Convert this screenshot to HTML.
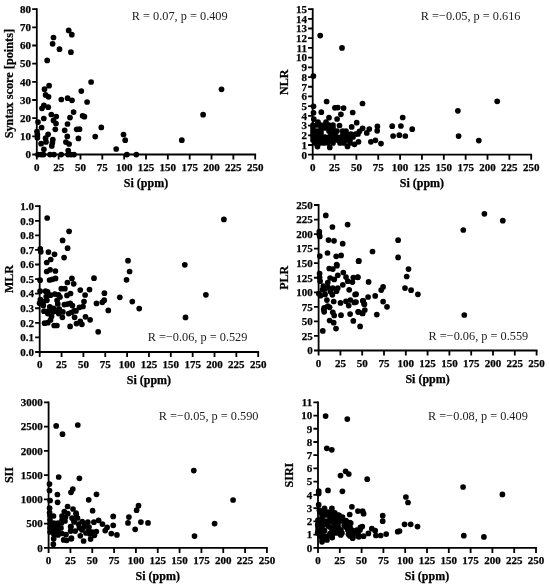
<!DOCTYPE html>
<html><head><meta charset="utf-8"><style>
html,body{margin:0;padding:0;background:#fff;}
svg{display:block;}
path{stroke:#000;stroke-width:1.8;fill:none;stroke-linecap:butt;}
text{font-family:"Liberation Serif","Times New Roman",serif;fill:#000;stroke:#000;stroke-width:0.25px;}
.tl{font-weight:bold;font-size:11px;}
.at{font-weight:bold;font-size:12px;}
.an{font-size:12.3px;stroke:none;fill:#1c1c1c;}
.pt circle{fill:#000;}
</style></head><body>
<svg width="550" height="586" viewBox="0 0 550 586">
<rect width="550" height="586" fill="#fff"/>
<path d="M36.80 8.30V159.60M32.20 154.50H256.10" />
<path d="M32.20 136.34H36.80M32.20 118.17H36.80M32.20 100.01H36.80M32.20 81.85H36.80M32.20 63.69H36.80M32.20 45.52H36.80M32.20 27.36H36.80M32.20 9.20H36.80M58.64 154.50V159.60M80.48 154.50V159.60M102.32 154.50V159.60M124.16 154.50V159.60M146.00 154.50V159.60M167.84 154.50V159.60M189.68 154.50V159.60M211.52 154.50V159.60M233.36 154.50V159.60M255.20 154.50V159.60" />
<text class="tl" x="31.00" y="158.30" text-anchor="end">0</text>
<text class="tl" x="31.00" y="140.14" text-anchor="end">10</text>
<text class="tl" x="31.00" y="121.97" text-anchor="end">20</text>
<text class="tl" x="31.00" y="103.81" text-anchor="end">30</text>
<text class="tl" x="31.00" y="85.65" text-anchor="end">40</text>
<text class="tl" x="31.00" y="67.49" text-anchor="end">50</text>
<text class="tl" x="31.00" y="49.32" text-anchor="end">60</text>
<text class="tl" x="31.00" y="31.16" text-anchor="end">70</text>
<text class="tl" x="31.00" y="13.00" text-anchor="end">80</text>
<text class="tl" x="36.80" y="170.70" text-anchor="middle">0</text>
<text class="tl" x="58.64" y="170.70" text-anchor="middle">25</text>
<text class="tl" x="80.48" y="170.70" text-anchor="middle">50</text>
<text class="tl" x="102.32" y="170.70" text-anchor="middle">75</text>
<text class="tl" x="124.16" y="170.70" text-anchor="middle">100</text>
<text class="tl" x="146.00" y="170.70" text-anchor="middle">125</text>
<text class="tl" x="167.84" y="170.70" text-anchor="middle">150</text>
<text class="tl" x="189.68" y="170.70" text-anchor="middle">175</text>
<text class="tl" x="211.52" y="170.70" text-anchor="middle">200</text>
<text class="tl" x="233.36" y="170.70" text-anchor="middle">225</text>
<text class="tl" x="255.20" y="170.70" text-anchor="middle">250</text>
<text class="at" x="146.00" y="186.50" text-anchor="middle">Si (ppm)</text>
<text class="at" style="font-size:12.25px" transform="translate(12.80 83.70) rotate(-90)" text-anchor="middle">Syntax score [points]</text>
<text class="an" x="131.80" y="20.30">R = 0.07, p = 0.409</text>
<g class="pt"><circle cx="68.7" cy="30.4" r="2.85"/><circle cx="71.8" cy="34.7" r="2.85"/><circle cx="53.5" cy="37.5" r="2.85"/><circle cx="52.6" cy="43.8" r="2.85"/><circle cx="59.5" cy="49.2" r="2.85"/><circle cx="70.9" cy="52.2" r="2.85"/><circle cx="47.2" cy="60.4" r="2.85"/><circle cx="91.1" cy="82.0" r="2.85"/><circle cx="49.1" cy="85.7" r="2.85"/><circle cx="44.5" cy="89.2" r="2.85"/><circle cx="81.3" cy="91.1" r="2.85"/><circle cx="45.6" cy="94.9" r="2.85"/><circle cx="48.5" cy="96.8" r="2.85"/><circle cx="61.3" cy="99.5" r="2.85"/><circle cx="67.6" cy="98.2" r="2.85"/><circle cx="72.0" cy="100.3" r="2.85"/><circle cx="87.1" cy="102.0" r="2.85"/><circle cx="43.9" cy="105.3" r="2.85"/><circle cx="42.0" cy="108.3" r="2.85"/><circle cx="48.2" cy="107.2" r="2.85"/><circle cx="73.6" cy="112.1" r="2.85"/><circle cx="51.3" cy="114.5" r="2.85"/><circle cx="56.2" cy="116.5" r="2.85"/><circle cx="82.6" cy="115.8" r="2.85"/><circle cx="84.4" cy="116.7" r="2.85"/><circle cx="43.8" cy="118.5" r="2.85"/><circle cx="70.0" cy="117.6" r="2.85"/><circle cx="53.5" cy="120.4" r="2.85"/><circle cx="38.0" cy="122.1" r="2.85"/><circle cx="56.0" cy="123.5" r="2.85"/><circle cx="67.5" cy="124.0" r="2.85"/><circle cx="41.6" cy="127.5" r="2.85"/><circle cx="55.3" cy="129.3" r="2.85"/><circle cx="64.7" cy="130.3" r="2.85"/><circle cx="76.7" cy="129.3" r="2.85"/><circle cx="79.5" cy="129.2" r="2.85"/><circle cx="37.0" cy="131.5" r="2.85"/><circle cx="37.4" cy="134.6" r="2.85"/><circle cx="37.4" cy="137.7" r="2.85"/><circle cx="48.1" cy="134.3" r="2.85"/><circle cx="45.6" cy="138.2" r="2.85"/><circle cx="52.8" cy="139.7" r="2.85"/><circle cx="67.3" cy="136.4" r="2.85"/><circle cx="78.4" cy="138.4" r="2.85"/><circle cx="41.1" cy="143.7" r="2.85"/><circle cx="46.0" cy="141.9" r="2.85"/><circle cx="52.4" cy="142.8" r="2.85"/><circle cx="51.8" cy="145.9" r="2.85"/><circle cx="65.9" cy="142.1" r="2.85"/><circle cx="69.1" cy="144.0" r="2.85"/><circle cx="43.9" cy="149.3" r="2.85"/><circle cx="68.2" cy="150.5" r="2.85"/><circle cx="101.3" cy="127.4" r="2.85"/><circle cx="95.2" cy="136.6" r="2.85"/><circle cx="123.5" cy="134.5" r="2.85"/><circle cx="125.2" cy="140.2" r="2.85"/><circle cx="116.2" cy="149.0" r="2.85"/><circle cx="38.0" cy="154.6" r="2.85"/><circle cx="41.0" cy="154.6" r="2.85"/><circle cx="43.5" cy="154.6" r="2.85"/><circle cx="50.0" cy="154.6" r="2.85"/><circle cx="54.0" cy="154.6" r="2.85"/><circle cx="61.2" cy="154.6" r="2.85"/><circle cx="68.0" cy="154.6" r="2.85"/><circle cx="71.0" cy="154.6" r="2.85"/><circle cx="74.0" cy="154.6" r="2.85"/><circle cx="126.9" cy="154.6" r="2.85"/><circle cx="136.3" cy="154.6" r="2.85"/><circle cx="221.5" cy="89.3" r="2.85"/><circle cx="203.1" cy="114.7" r="2.85"/><circle cx="181.8" cy="140.2" r="2.85"/></g>
<path d="M312.70 8.20V159.80M308.10 154.70H532.10" />
<path d="M308.10 144.99H312.70M308.10 135.29H312.70M308.10 125.58H312.70M308.10 115.87H312.70M308.10 106.17H312.70M308.10 96.46H312.70M308.10 86.75H312.70M308.10 77.05H312.70M308.10 67.34H312.70M308.10 57.63H312.70M308.10 47.93H312.70M308.10 38.22H312.70M308.10 28.51H312.70M308.10 18.81H312.70M308.10 9.10H312.70M334.55 154.70V159.80M356.40 154.70V159.80M378.25 154.70V159.80M400.10 154.70V159.80M421.95 154.70V159.80M443.80 154.70V159.80M465.65 154.70V159.80M487.50 154.70V159.80M509.35 154.70V159.80M531.20 154.70V159.80" />
<text class="tl" x="306.90" y="158.50" text-anchor="end">0</text>
<text class="tl" x="306.90" y="148.79" text-anchor="end">1</text>
<text class="tl" x="306.90" y="139.09" text-anchor="end">2</text>
<text class="tl" x="306.90" y="129.38" text-anchor="end">3</text>
<text class="tl" x="306.90" y="119.67" text-anchor="end">4</text>
<text class="tl" x="306.90" y="109.97" text-anchor="end">5</text>
<text class="tl" x="306.90" y="100.26" text-anchor="end">6</text>
<text class="tl" x="306.90" y="90.55" text-anchor="end">7</text>
<text class="tl" x="306.90" y="80.85" text-anchor="end">8</text>
<text class="tl" x="306.90" y="71.14" text-anchor="end">9</text>
<text class="tl" x="306.90" y="61.43" text-anchor="end">10</text>
<text class="tl" x="306.90" y="51.73" text-anchor="end">11</text>
<text class="tl" x="306.90" y="42.02" text-anchor="end">12</text>
<text class="tl" x="306.90" y="32.31" text-anchor="end">13</text>
<text class="tl" x="306.90" y="22.61" text-anchor="end">14</text>
<text class="tl" x="306.90" y="12.90" text-anchor="end">15</text>
<text class="tl" x="312.70" y="170.90" text-anchor="middle">0</text>
<text class="tl" x="334.55" y="170.90" text-anchor="middle">25</text>
<text class="tl" x="356.40" y="170.90" text-anchor="middle">50</text>
<text class="tl" x="378.25" y="170.90" text-anchor="middle">75</text>
<text class="tl" x="400.10" y="170.90" text-anchor="middle">100</text>
<text class="tl" x="421.95" y="170.90" text-anchor="middle">125</text>
<text class="tl" x="443.80" y="170.90" text-anchor="middle">150</text>
<text class="tl" x="465.65" y="170.90" text-anchor="middle">175</text>
<text class="tl" x="487.50" y="170.90" text-anchor="middle">200</text>
<text class="tl" x="509.35" y="170.90" text-anchor="middle">225</text>
<text class="tl" x="531.20" y="170.90" text-anchor="middle">250</text>
<text class="at" x="421.95" y="186.70" text-anchor="middle">Si (ppm)</text>
<text class="at" transform="translate(288.00 82.30) rotate(-90)" text-anchor="middle">NLR</text>
<text class="an" x="420.80" y="20.20">R =−0.05, p = 0.616</text>
<g class="pt"><circle cx="320.2" cy="35.6" r="2.85"/><circle cx="342.0" cy="47.9" r="2.85"/><circle cx="313.4" cy="76.1" r="2.85"/><circle cx="326.6" cy="101.5" r="2.85"/><circle cx="362.5" cy="103.5" r="2.85"/><circle cx="313.5" cy="106.3" r="2.85"/><circle cx="334.9" cy="107.8" r="2.85"/><circle cx="337.8" cy="107.6" r="2.85"/><circle cx="343.6" cy="108.1" r="2.85"/><circle cx="313.5" cy="112.8" r="2.85"/><circle cx="321.3" cy="112.2" r="2.85"/><circle cx="340.9" cy="114.3" r="2.85"/><circle cx="352.7" cy="112.5" r="2.85"/><circle cx="313.8" cy="119.1" r="2.85"/><circle cx="329.0" cy="117.7" r="2.85"/><circle cx="337.1" cy="119.0" r="2.85"/><circle cx="356.7" cy="122.7" r="2.85"/><circle cx="351.7" cy="126.9" r="2.85"/><circle cx="339.5" cy="125.5" r="2.85"/><circle cx="362.6" cy="128.3" r="2.85"/><circle cx="369.3" cy="129.0" r="2.85"/><circle cx="377.4" cy="126.4" r="2.85"/><circle cx="377.2" cy="130.8" r="2.85"/><circle cx="366.8" cy="132.9" r="2.85"/><circle cx="359.5" cy="131.3" r="2.85"/><circle cx="370.9" cy="141.8" r="2.85"/><circle cx="375.4" cy="140.3" r="2.85"/><circle cx="381.0" cy="143.6" r="2.85"/><circle cx="358.5" cy="141.8" r="2.85"/><circle cx="354.5" cy="144.3" r="2.85"/><circle cx="347.5" cy="146.5" r="2.85"/><circle cx="329.8" cy="147.4" r="2.85"/><circle cx="317.5" cy="146.6" r="2.85"/><circle cx="402.7" cy="117.5" r="2.85"/><circle cx="392.2" cy="126.2" r="2.85"/><circle cx="400.9" cy="126.0" r="2.85"/><circle cx="412.2" cy="129.2" r="2.85"/><circle cx="393.1" cy="136.0" r="2.85"/><circle cx="399.3" cy="135.2" r="2.85"/><circle cx="405.3" cy="136.0" r="2.85"/><circle cx="497.2" cy="101.3" r="2.85"/><circle cx="457.9" cy="110.8" r="2.85"/><circle cx="458.6" cy="136.1" r="2.85"/><circle cx="478.8" cy="140.6" r="2.85"/><circle cx="318.0" cy="122.0" r="2.85"/><circle cx="326.0" cy="122.0" r="2.85"/><circle cx="313.0" cy="125.0" r="2.85"/><circle cx="317.0" cy="125.0" r="2.85"/><circle cx="321.0" cy="125.0" r="2.85"/><circle cx="325.0" cy="125.0" r="2.85"/><circle cx="329.0" cy="125.0" r="2.85"/><circle cx="333.0" cy="125.0" r="2.85"/><circle cx="313.0" cy="128.0" r="2.85"/><circle cx="321.0" cy="128.0" r="2.85"/><circle cx="325.0" cy="128.0" r="2.85"/><circle cx="329.0" cy="128.0" r="2.85"/><circle cx="333.0" cy="128.0" r="2.85"/><circle cx="313.0" cy="131.0" r="2.85"/><circle cx="317.0" cy="131.0" r="2.85"/><circle cx="321.0" cy="131.0" r="2.85"/><circle cx="329.0" cy="131.0" r="2.85"/><circle cx="333.0" cy="131.0" r="2.85"/><circle cx="337.0" cy="131.0" r="2.85"/><circle cx="342.7" cy="131.0" r="2.85"/><circle cx="346.0" cy="131.0" r="2.85"/><circle cx="313.0" cy="134.0" r="2.85"/><circle cx="317.0" cy="134.0" r="2.85"/><circle cx="321.0" cy="134.0" r="2.85"/><circle cx="331.0" cy="134.0" r="2.85"/><circle cx="335.0" cy="134.0" r="2.85"/><circle cx="343.0" cy="134.0" r="2.85"/><circle cx="347.0" cy="134.0" r="2.85"/><circle cx="351.0" cy="134.0" r="2.85"/><circle cx="355.5" cy="134.0" r="2.85"/><circle cx="358.0" cy="134.0" r="2.85"/><circle cx="313.0" cy="137.0" r="2.85"/><circle cx="317.0" cy="137.0" r="2.85"/><circle cx="321.0" cy="137.0" r="2.85"/><circle cx="325.0" cy="137.0" r="2.85"/><circle cx="329.0" cy="137.0" r="2.85"/><circle cx="333.0" cy="137.0" r="2.85"/><circle cx="337.0" cy="137.0" r="2.85"/><circle cx="341.0" cy="137.0" r="2.85"/><circle cx="345.0" cy="137.0" r="2.85"/><circle cx="349.0" cy="137.0" r="2.85"/><circle cx="353.0" cy="137.0" r="2.85"/><circle cx="313.0" cy="140.0" r="2.85"/><circle cx="317.0" cy="140.0" r="2.85"/><circle cx="321.0" cy="140.0" r="2.85"/><circle cx="325.0" cy="140.0" r="2.85"/><circle cx="329.0" cy="140.0" r="2.85"/><circle cx="333.0" cy="140.0" r="2.85"/><circle cx="337.0" cy="140.0" r="2.85"/><circle cx="341.0" cy="140.0" r="2.85"/><circle cx="346.0" cy="140.0" r="2.85"/><circle cx="350.0" cy="140.0" r="2.85"/><circle cx="315.0" cy="143.0" r="2.85"/><circle cx="320.0" cy="143.0" r="2.85"/><circle cx="324.0" cy="143.0" r="2.85"/><circle cx="328.0" cy="143.0" r="2.85"/><circle cx="333.0" cy="143.0" r="2.85"/><circle cx="340.0" cy="143.0" r="2.85"/><circle cx="344.0" cy="143.0" r="2.85"/><circle cx="350.0" cy="143.0" r="2.85"/></g>
<path d="M39.70 205.30V357.10M35.10 352.00H259.10" />
<path d="M35.10 337.42H39.70M35.10 322.84H39.70M35.10 308.26H39.70M35.10 293.68H39.70M35.10 279.10H39.70M35.10 264.52H39.70M35.10 249.94H39.70M35.10 235.36H39.70M35.10 220.78H39.70M35.10 206.20H39.70M61.55 352.00V357.10M83.40 352.00V357.10M105.25 352.00V357.10M127.10 352.00V357.10M148.95 352.00V357.10M170.80 352.00V357.10M192.65 352.00V357.10M214.50 352.00V357.10M236.35 352.00V357.10M258.20 352.00V357.10" />
<text class="tl" x="33.90" y="355.80" text-anchor="end">0.0</text>
<text class="tl" x="33.90" y="341.22" text-anchor="end">0.1</text>
<text class="tl" x="33.90" y="326.64" text-anchor="end">0.2</text>
<text class="tl" x="33.90" y="312.06" text-anchor="end">0.3</text>
<text class="tl" x="33.90" y="297.48" text-anchor="end">0.4</text>
<text class="tl" x="33.90" y="282.90" text-anchor="end">0.5</text>
<text class="tl" x="33.90" y="268.32" text-anchor="end">0.6</text>
<text class="tl" x="33.90" y="253.74" text-anchor="end">0.7</text>
<text class="tl" x="33.90" y="239.16" text-anchor="end">0.8</text>
<text class="tl" x="33.90" y="224.58" text-anchor="end">0.9</text>
<text class="tl" x="33.90" y="210.00" text-anchor="end">1.0</text>
<text class="tl" x="39.70" y="368.20" text-anchor="middle">0</text>
<text class="tl" x="61.55" y="368.20" text-anchor="middle">25</text>
<text class="tl" x="83.40" y="368.20" text-anchor="middle">50</text>
<text class="tl" x="105.25" y="368.20" text-anchor="middle">75</text>
<text class="tl" x="127.10" y="368.20" text-anchor="middle">100</text>
<text class="tl" x="148.95" y="368.20" text-anchor="middle">125</text>
<text class="tl" x="170.80" y="368.20" text-anchor="middle">150</text>
<text class="tl" x="192.65" y="368.20" text-anchor="middle">175</text>
<text class="tl" x="214.50" y="368.20" text-anchor="middle">200</text>
<text class="tl" x="236.35" y="368.20" text-anchor="middle">225</text>
<text class="tl" x="258.20" y="368.20" text-anchor="middle">250</text>
<text class="at" x="148.95" y="384.00" text-anchor="middle">Si (ppm)</text>
<text class="at" transform="translate(13.00 279.10) rotate(-90)" text-anchor="middle">MLR</text>
<text class="an" x="147.70" y="340.80">R =−0.06, p = 0.529</text>
<g class="pt"><circle cx="47.2" cy="218.0" r="2.85"/><circle cx="69.1" cy="231.3" r="2.85"/><circle cx="62.6" cy="240.4" r="2.85"/><circle cx="67.6" cy="248.2" r="2.85"/><circle cx="40.3" cy="248.9" r="2.85"/><circle cx="40.8" cy="251.8" r="2.85"/><circle cx="48.4" cy="252.1" r="2.85"/><circle cx="54.5" cy="254.3" r="2.85"/><circle cx="50.7" cy="259.5" r="2.85"/><circle cx="64.1" cy="257.6" r="2.85"/><circle cx="46.7" cy="262.5" r="2.85"/><circle cx="46.7" cy="271.5" r="2.85"/><circle cx="50.1" cy="269.8" r="2.85"/><circle cx="55.4" cy="271.0" r="2.85"/><circle cx="40.1" cy="280.2" r="2.85"/><circle cx="49.6" cy="280.0" r="2.85"/><circle cx="52.4" cy="279.3" r="2.85"/><circle cx="55.5" cy="278.4" r="2.85"/><circle cx="71.9" cy="278.4" r="2.85"/><circle cx="67.4" cy="282.5" r="2.85"/><circle cx="73.7" cy="283.8" r="2.85"/><circle cx="61.3" cy="288.7" r="2.85"/><circle cx="64.9" cy="288.7" r="2.85"/><circle cx="80.3" cy="290.1" r="2.85"/><circle cx="40.1" cy="291.2" r="2.85"/><circle cx="45.6" cy="291.2" r="2.85"/><circle cx="47.6" cy="291.9" r="2.85"/><circle cx="70.5" cy="293.5" r="2.85"/><circle cx="67.0" cy="295.4" r="2.85"/><circle cx="85.1" cy="295.0" r="2.85"/><circle cx="46.2" cy="296.6" r="2.85"/><circle cx="50.5" cy="295.2" r="2.85"/><circle cx="54.9" cy="294.1" r="2.85"/><circle cx="58.5" cy="294.8" r="2.85"/><circle cx="60.0" cy="297.0" r="2.85"/><circle cx="40.4" cy="299.5" r="2.85"/><circle cx="39.6" cy="303.2" r="2.85"/><circle cx="43.3" cy="301.7" r="2.85"/><circle cx="43.3" cy="305.4" r="2.85"/><circle cx="46.9" cy="300.3" r="2.85"/><circle cx="57.1" cy="300.3" r="2.85"/><circle cx="57.8" cy="303.9" r="2.85"/><circle cx="49.8" cy="306.8" r="2.85"/><circle cx="53.5" cy="308.3" r="2.85"/><circle cx="64.4" cy="304.6" r="2.85"/><circle cx="70.2" cy="303.4" r="2.85"/><circle cx="72.4" cy="305.6" r="2.85"/><circle cx="67.4" cy="304.1" r="2.85"/><circle cx="44.0" cy="311.2" r="2.85"/><circle cx="48.4" cy="311.2" r="2.85"/><circle cx="54.9" cy="311.2" r="2.85"/><circle cx="59.3" cy="309.0" r="2.85"/><circle cx="62.9" cy="311.9" r="2.85"/><circle cx="71.6" cy="312.4" r="2.85"/><circle cx="74.5" cy="310.5" r="2.85"/><circle cx="47.8" cy="313.6" r="2.85"/><circle cx="53.3" cy="311.8" r="2.85"/><circle cx="57.8" cy="310.0" r="2.85"/><circle cx="58.7" cy="313.6" r="2.85"/><circle cx="51.5" cy="316.4" r="2.85"/><circle cx="62.4" cy="317.3" r="2.85"/><circle cx="50.5" cy="320.0" r="2.85"/><circle cx="44.6" cy="323.2" r="2.85"/><circle cx="47.8" cy="322.7" r="2.85"/><circle cx="54.2" cy="325.5" r="2.85"/><circle cx="56.9" cy="325.5" r="2.85"/><circle cx="68.7" cy="313.6" r="2.85"/><circle cx="74.6" cy="317.3" r="2.85"/><circle cx="76.0" cy="310.9" r="2.85"/><circle cx="79.5" cy="307.3" r="2.85"/><circle cx="83.0" cy="306.5" r="2.85"/><circle cx="84.0" cy="301.6" r="2.85"/><circle cx="85.5" cy="316.8" r="2.85"/><circle cx="70.1" cy="326.4" r="2.85"/><circle cx="76.5" cy="323.6" r="2.85"/><circle cx="80.3" cy="321.4" r="2.85"/><circle cx="81.9" cy="324.3" r="2.85"/><circle cx="94.0" cy="278.2" r="2.85"/><circle cx="89.5" cy="289.6" r="2.85"/><circle cx="104.4" cy="293.2" r="2.85"/><circle cx="119.8" cy="297.3" r="2.85"/><circle cx="104.2" cy="300.2" r="2.85"/><circle cx="102.3" cy="302.3" r="2.85"/><circle cx="96.5" cy="303.4" r="2.85"/><circle cx="132.3" cy="301.6" r="2.85"/><circle cx="108.3" cy="310.4" r="2.85"/><circle cx="139.2" cy="308.6" r="2.85"/><circle cx="90.1" cy="319.8" r="2.85"/><circle cx="98.2" cy="331.8" r="2.85"/><circle cx="128.0" cy="260.7" r="2.85"/><circle cx="129.6" cy="271.5" r="2.85"/><circle cx="126.5" cy="279.8" r="2.85"/><circle cx="223.9" cy="219.4" r="2.85"/><circle cx="184.8" cy="264.8" r="2.85"/><circle cx="205.9" cy="294.8" r="2.85"/><circle cx="185.5" cy="317.4" r="2.85"/></g>
<path d="M318.60 204.10V355.60M314.00 350.50H537.50" />
<path d="M314.00 335.95H318.60M314.00 321.40H318.60M314.00 306.85H318.60M314.00 292.30H318.60M314.00 277.75H318.60M314.00 263.20H318.60M314.00 248.65H318.60M314.00 234.10H318.60M314.00 219.55H318.60M314.00 205.00H318.60M340.40 350.50V355.60M362.20 350.50V355.60M384.00 350.50V355.60M405.80 350.50V355.60M427.60 350.50V355.60M449.40 350.50V355.60M471.20 350.50V355.60M493.00 350.50V355.60M514.80 350.50V355.60M536.60 350.50V355.60" />
<text class="tl" x="312.80" y="354.30" text-anchor="end">0</text>
<text class="tl" x="312.80" y="339.75" text-anchor="end">25</text>
<text class="tl" x="312.80" y="325.20" text-anchor="end">50</text>
<text class="tl" x="312.80" y="310.65" text-anchor="end">75</text>
<text class="tl" x="312.80" y="296.10" text-anchor="end">100</text>
<text class="tl" x="312.80" y="281.55" text-anchor="end">125</text>
<text class="tl" x="312.80" y="267.00" text-anchor="end">150</text>
<text class="tl" x="312.80" y="252.45" text-anchor="end">175</text>
<text class="tl" x="312.80" y="237.90" text-anchor="end">200</text>
<text class="tl" x="312.80" y="223.35" text-anchor="end">225</text>
<text class="tl" x="312.80" y="208.80" text-anchor="end">250</text>
<text class="tl" x="318.60" y="366.70" text-anchor="middle">0</text>
<text class="tl" x="340.40" y="366.70" text-anchor="middle">25</text>
<text class="tl" x="362.20" y="366.70" text-anchor="middle">50</text>
<text class="tl" x="384.00" y="366.70" text-anchor="middle">75</text>
<text class="tl" x="405.80" y="366.70" text-anchor="middle">100</text>
<text class="tl" x="427.60" y="366.70" text-anchor="middle">125</text>
<text class="tl" x="449.40" y="366.70" text-anchor="middle">150</text>
<text class="tl" x="471.20" y="366.70" text-anchor="middle">175</text>
<text class="tl" x="493.00" y="366.70" text-anchor="middle">200</text>
<text class="tl" x="514.80" y="366.70" text-anchor="middle">225</text>
<text class="tl" x="536.60" y="366.70" text-anchor="middle">250</text>
<text class="at" x="427.60" y="382.50" text-anchor="middle">Si (ppm)</text>
<text class="at" transform="translate(288.00 277.75) rotate(-90)" text-anchor="middle">PLR</text>
<text class="an" x="428.50" y="339.70">R =−0.06, p = 0.559</text>
<g class="pt"><circle cx="325.8" cy="215.4" r="2.85"/><circle cx="347.6" cy="224.6" r="2.85"/><circle cx="332.4" cy="227.0" r="2.85"/><circle cx="319.3" cy="231.7" r="2.85"/><circle cx="319.3" cy="234.5" r="2.85"/><circle cx="319.8" cy="236.5" r="2.85"/><circle cx="328.5" cy="240.1" r="2.85"/><circle cx="334.0" cy="240.8" r="2.85"/><circle cx="342.7" cy="243.7" r="2.85"/><circle cx="327.5" cy="253.0" r="2.85"/><circle cx="319.8" cy="256.1" r="2.85"/><circle cx="336.2" cy="256.3" r="2.85"/><circle cx="341.1" cy="255.4" r="2.85"/><circle cx="372.5" cy="251.5" r="2.85"/><circle cx="358.6" cy="261.2" r="2.85"/><circle cx="336.7" cy="264.5" r="2.85"/><circle cx="336.9" cy="265.7" r="2.85"/><circle cx="329.2" cy="268.5" r="2.85"/><circle cx="332.8" cy="269.1" r="2.85"/><circle cx="319.6" cy="273.5" r="2.85"/><circle cx="319.6" cy="277.5" r="2.85"/><circle cx="320.1" cy="281.2" r="2.85"/><circle cx="343.3" cy="272.5" r="2.85"/><circle cx="337.8" cy="275.3" r="2.85"/><circle cx="346.0" cy="277.1" r="2.85"/><circle cx="330.1" cy="278.0" r="2.85"/><circle cx="334.2" cy="279.4" r="2.85"/><circle cx="357.8" cy="277.2" r="2.85"/><circle cx="353.3" cy="277.5" r="2.85"/><circle cx="347.8" cy="281.2" r="2.85"/><circle cx="352.4" cy="282.1" r="2.85"/><circle cx="327.8" cy="282.5" r="2.85"/><circle cx="342.8" cy="284.8" r="2.85"/><circle cx="323.3" cy="286.2" r="2.85"/><circle cx="322.4" cy="289.8" r="2.85"/><circle cx="325.1" cy="288.9" r="2.85"/><circle cx="327.8" cy="287.1" r="2.85"/><circle cx="332.8" cy="288.0" r="2.85"/><circle cx="337.8" cy="288.0" r="2.85"/><circle cx="330.5" cy="291.6" r="2.85"/><circle cx="336.5" cy="291.2" r="2.85"/><circle cx="349.2" cy="289.8" r="2.85"/><circle cx="318.7" cy="293.5" r="2.85"/><circle cx="320.5" cy="295.7" r="2.85"/><circle cx="325.1" cy="294.4" r="2.85"/><circle cx="332.4" cy="294.8" r="2.85"/><circle cx="355.1" cy="294.6" r="2.85"/><circle cx="326.9" cy="300.1" r="2.85"/><circle cx="333.7" cy="301.5" r="2.85"/><circle cx="340.5" cy="302.9" r="2.85"/><circle cx="346.0" cy="301.3" r="2.85"/><circle cx="350.3" cy="300.0" r="2.85"/><circle cx="354.4" cy="302.4" r="2.85"/><circle cx="362.8" cy="300.8" r="2.85"/><circle cx="327.8" cy="306.2" r="2.85"/><circle cx="324.2" cy="307.8" r="2.85"/><circle cx="348.7" cy="305.6" r="2.85"/><circle cx="364.2" cy="304.1" r="2.85"/><circle cx="329.6" cy="307.3" r="2.85"/><circle cx="323.7" cy="309.5" r="2.85"/><circle cx="324.2" cy="311.8" r="2.85"/><circle cx="332.8" cy="312.3" r="2.85"/><circle cx="334.2" cy="315.5" r="2.85"/><circle cx="341.0" cy="315.2" r="2.85"/><circle cx="350.1" cy="314.1" r="2.85"/><circle cx="358.3" cy="311.8" r="2.85"/><circle cx="362.4" cy="313.2" r="2.85"/><circle cx="329.6" cy="320.5" r="2.85"/><circle cx="333.7" cy="322.7" r="2.85"/><circle cx="353.3" cy="320.9" r="2.85"/><circle cx="336.0" cy="328.6" r="2.85"/><circle cx="360.1" cy="326.4" r="2.85"/><circle cx="322.8" cy="330.9" r="2.85"/><circle cx="398.1" cy="257.4" r="2.85"/><circle cx="398.1" cy="240.2" r="2.85"/><circle cx="358.8" cy="260.9" r="2.85"/><circle cx="408.5" cy="269.1" r="2.85"/><circle cx="406.7" cy="276.5" r="2.85"/><circle cx="357.7" cy="277.3" r="2.85"/><circle cx="368.6" cy="281.9" r="2.85"/><circle cx="383.1" cy="286.9" r="2.85"/><circle cx="381.2" cy="290.1" r="2.85"/><circle cx="405.0" cy="288.1" r="2.85"/><circle cx="411.1" cy="290.2" r="2.85"/><circle cx="417.9" cy="294.3" r="2.85"/><circle cx="356.1" cy="294.2" r="2.85"/><circle cx="375.2" cy="295.9" r="2.85"/><circle cx="368.1" cy="297.0" r="2.85"/><circle cx="363.2" cy="300.8" r="2.85"/><circle cx="356.0" cy="302.0" r="2.85"/><circle cx="383.1" cy="301.6" r="2.85"/><circle cx="387.0" cy="306.8" r="2.85"/><circle cx="364.4" cy="304.2" r="2.85"/><circle cx="364.8" cy="310.0" r="2.85"/><circle cx="358.3" cy="311.9" r="2.85"/><circle cx="362.6" cy="313.5" r="2.85"/><circle cx="376.8" cy="314.6" r="2.85"/><circle cx="484.4" cy="213.8" r="2.85"/><circle cx="502.8" cy="220.7" r="2.85"/><circle cx="463.3" cy="230.0" r="2.85"/><circle cx="464.3" cy="315.0" r="2.85"/></g>
<path d="M48.60 401.40V552.90M44.00 547.80H267.80" />
<path d="M44.00 523.55H48.60M44.00 499.30H48.60M44.00 475.05H48.60M44.00 450.80H48.60M44.00 426.55H48.60M44.00 402.30H48.60M70.43 547.80V552.90M92.26 547.80V552.90M114.09 547.80V552.90M135.92 547.80V552.90M157.75 547.80V552.90M179.58 547.80V552.90M201.41 547.80V552.90M223.24 547.80V552.90M245.07 547.80V552.90M266.90 547.80V552.90" />
<text class="tl" x="42.80" y="551.60" text-anchor="end">0</text>
<text class="tl" x="42.80" y="527.35" text-anchor="end">500</text>
<text class="tl" x="42.80" y="503.10" text-anchor="end">1000</text>
<text class="tl" x="42.80" y="478.85" text-anchor="end">1500</text>
<text class="tl" x="42.80" y="454.60" text-anchor="end">2000</text>
<text class="tl" x="42.80" y="430.35" text-anchor="end">2500</text>
<text class="tl" x="42.80" y="406.10" text-anchor="end">3000</text>
<text class="tl" x="48.60" y="564.00" text-anchor="middle">0</text>
<text class="tl" x="70.43" y="564.00" text-anchor="middle">25</text>
<text class="tl" x="92.26" y="564.00" text-anchor="middle">50</text>
<text class="tl" x="114.09" y="564.00" text-anchor="middle">75</text>
<text class="tl" x="135.92" y="564.00" text-anchor="middle">100</text>
<text class="tl" x="157.75" y="564.00" text-anchor="middle">125</text>
<text class="tl" x="179.58" y="564.00" text-anchor="middle">150</text>
<text class="tl" x="201.41" y="564.00" text-anchor="middle">175</text>
<text class="tl" x="223.24" y="564.00" text-anchor="middle">200</text>
<text class="tl" x="245.07" y="564.00" text-anchor="middle">225</text>
<text class="tl" x="266.90" y="564.00" text-anchor="middle">250</text>
<text class="at" x="157.75" y="579.80" text-anchor="middle">Si (ppm)</text>
<text class="at" transform="translate(13.20 475.05) rotate(-90)" text-anchor="middle">SII</text>
<text class="an" x="158.80" y="419.50">R =−0.05, p = 0.590</text>
<g class="pt"><circle cx="56.2" cy="425.9" r="2.85"/><circle cx="77.8" cy="425.0" r="2.85"/><circle cx="62.5" cy="434.2" r="2.85"/><circle cx="58.7" cy="477.0" r="2.85"/><circle cx="79.4" cy="478.3" r="2.85"/><circle cx="49.5" cy="484.1" r="2.85"/><circle cx="49.5" cy="490.5" r="2.85"/><circle cx="72.8" cy="489.1" r="2.85"/><circle cx="71.0" cy="492.3" r="2.85"/><circle cx="57.4" cy="494.5" r="2.85"/><circle cx="96.5" cy="494.3" r="2.85"/><circle cx="50.1" cy="500.5" r="2.85"/><circle cx="88.7" cy="499.8" r="2.85"/><circle cx="57.6" cy="502.3" r="2.85"/><circle cx="49.6" cy="508.2" r="2.85"/><circle cx="67.6" cy="506.5" r="2.85"/><circle cx="73.0" cy="509.0" r="2.85"/><circle cx="92.6" cy="510.7" r="2.85"/><circle cx="49.6" cy="512.7" r="2.85"/><circle cx="53.5" cy="516.0" r="2.85"/><circle cx="64.3" cy="511.5" r="2.85"/><circle cx="67.8" cy="513.6" r="2.85"/><circle cx="76.3" cy="514.6" r="2.85"/><circle cx="53.7" cy="538.8" r="2.85"/><circle cx="53.3" cy="544.2" r="2.85"/><circle cx="63.7" cy="539.9" r="2.85"/><circle cx="66.7" cy="540.3" r="2.85"/><circle cx="71.3" cy="538.8" r="2.85"/><circle cx="70.6" cy="526.5" r="2.85"/><circle cx="70.6" cy="531.1" r="2.85"/><circle cx="73.8" cy="520.3" r="2.85"/><circle cx="77.5" cy="518.0" r="2.85"/><circle cx="82.2" cy="521.7" r="2.85"/><circle cx="87.8" cy="522.2" r="2.85"/><circle cx="93.9" cy="522.2" r="2.85"/><circle cx="98.6" cy="520.3" r="2.85"/><circle cx="102.4" cy="524.1" r="2.85"/><circle cx="107.1" cy="527.4" r="2.85"/><circle cx="113.2" cy="525.3" r="2.85"/><circle cx="113.2" cy="516.4" r="2.85"/><circle cx="70.9" cy="526.9" r="2.85"/><circle cx="79.4" cy="527.8" r="2.85"/><circle cx="84.1" cy="526.9" r="2.85"/><circle cx="75.2" cy="531.1" r="2.85"/><circle cx="88.8" cy="530.6" r="2.85"/><circle cx="92.5" cy="532.1" r="2.85"/><circle cx="96.3" cy="531.6" r="2.85"/><circle cx="105.2" cy="530.6" r="2.85"/><circle cx="111.3" cy="533.6" r="2.85"/><circle cx="116.9" cy="534.9" r="2.85"/><circle cx="80.3" cy="535.8" r="2.85"/><circle cx="94.4" cy="535.3" r="2.85"/><circle cx="71.4" cy="538.2" r="2.85"/><circle cx="83.6" cy="541.0" r="2.85"/><circle cx="90.6" cy="539.1" r="2.85"/><circle cx="138.5" cy="505.7" r="2.85"/><circle cx="136.6" cy="510.2" r="2.85"/><circle cx="128.9" cy="517.1" r="2.85"/><circle cx="128.0" cy="522.9" r="2.85"/><circle cx="140.9" cy="522.1" r="2.85"/><circle cx="148.0" cy="522.9" r="2.85"/><circle cx="135.2" cy="529.3" r="2.85"/><circle cx="193.8" cy="470.6" r="2.85"/><circle cx="233.1" cy="500.0" r="2.85"/><circle cx="214.6" cy="523.6" r="2.85"/><circle cx="194.5" cy="536.1" r="2.85"/><circle cx="50.0" cy="516.0" r="2.85"/><circle cx="50.0" cy="520.0" r="2.85"/><circle cx="50.0" cy="524.0" r="2.85"/><circle cx="50.0" cy="528.0" r="2.85"/><circle cx="50.0" cy="532.0" r="2.85"/><circle cx="54.0" cy="523.0" r="2.85"/><circle cx="54.0" cy="527.0" r="2.85"/><circle cx="54.0" cy="531.0" r="2.85"/><circle cx="54.0" cy="534.5" r="2.85"/><circle cx="58.0" cy="523.0" r="2.85"/><circle cx="58.0" cy="527.0" r="2.85"/><circle cx="58.0" cy="531.0" r="2.85"/><circle cx="58.0" cy="535.0" r="2.85"/><circle cx="62.0" cy="516.0" r="2.85"/><circle cx="62.0" cy="520.0" r="2.85"/><circle cx="61.5" cy="523.0" r="2.85"/><circle cx="62.0" cy="533.5" r="2.85"/><circle cx="65.5" cy="517.0" r="2.85"/><circle cx="65.0" cy="521.0" r="2.85"/><circle cx="66.0" cy="534.5" r="2.85"/><circle cx="61.0" cy="528.0" r="2.85"/><circle cx="85.0" cy="525.0" r="2.85"/><circle cx="89.0" cy="527.0" r="2.85"/><circle cx="82.0" cy="530.0" r="2.85"/><circle cx="86.0" cy="533.0" r="2.85"/><circle cx="78.5" cy="524.0" r="2.85"/><circle cx="90.0" cy="534.0" r="2.85"/><circle cx="74.0" cy="522.0" r="2.85"/><circle cx="76.0" cy="513.0" r="2.85"/><circle cx="72.0" cy="518.0" r="2.85"/></g>
<path d="M318.00 401.40V552.90M313.40 547.80H536.90" />
<path d="M313.40 534.57H318.00M313.40 521.35H318.00M313.40 508.12H318.00M313.40 494.89H318.00M313.40 481.66H318.00M313.40 468.44H318.00M313.40 455.21H318.00M313.40 441.98H318.00M313.40 428.75H318.00M313.40 415.53H318.00M313.40 402.30H318.00M339.80 547.80V552.90M361.60 547.80V552.90M383.40 547.80V552.90M405.20 547.80V552.90M427.00 547.80V552.90M448.80 547.80V552.90M470.60 547.80V552.90M492.40 547.80V552.90M514.20 547.80V552.90M536.00 547.80V552.90" />
<text class="tl" x="312.20" y="551.60" text-anchor="end">0</text>
<text class="tl" x="312.20" y="538.37" text-anchor="end">1</text>
<text class="tl" x="312.20" y="525.15" text-anchor="end">2</text>
<text class="tl" x="312.20" y="511.92" text-anchor="end">3</text>
<text class="tl" x="312.20" y="498.69" text-anchor="end">4</text>
<text class="tl" x="312.20" y="485.46" text-anchor="end">5</text>
<text class="tl" x="312.20" y="472.24" text-anchor="end">6</text>
<text class="tl" x="312.20" y="459.01" text-anchor="end">7</text>
<text class="tl" x="312.20" y="445.78" text-anchor="end">8</text>
<text class="tl" x="312.20" y="432.55" text-anchor="end">9</text>
<text class="tl" x="312.20" y="419.33" text-anchor="end">10</text>
<text class="tl" x="312.20" y="406.10" text-anchor="end">11</text>
<text class="tl" x="318.00" y="564.00" text-anchor="middle">0</text>
<text class="tl" x="339.80" y="564.00" text-anchor="middle">25</text>
<text class="tl" x="361.60" y="564.00" text-anchor="middle">50</text>
<text class="tl" x="383.40" y="564.00" text-anchor="middle">75</text>
<text class="tl" x="405.20" y="564.00" text-anchor="middle">100</text>
<text class="tl" x="427.00" y="564.00" text-anchor="middle">125</text>
<text class="tl" x="448.80" y="564.00" text-anchor="middle">150</text>
<text class="tl" x="470.60" y="564.00" text-anchor="middle">175</text>
<text class="tl" x="492.40" y="564.00" text-anchor="middle">200</text>
<text class="tl" x="514.20" y="564.00" text-anchor="middle">225</text>
<text class="tl" x="536.00" y="564.00" text-anchor="middle">250</text>
<text class="at" x="427.00" y="579.80" text-anchor="middle">Si (ppm)</text>
<text class="at" transform="translate(293.30 475.05) rotate(-90)" text-anchor="middle">SIRI</text>
<text class="an" x="428.10" y="419.50">R =−0.08, p = 0.409</text>
<g class="pt"><circle cx="325.6" cy="416.1" r="2.85"/><circle cx="347.3" cy="419.1" r="2.85"/><circle cx="326.8" cy="448.3" r="2.85"/><circle cx="331.8" cy="449.8" r="2.85"/><circle cx="345.6" cy="471.3" r="2.85"/><circle cx="348.8" cy="474.0" r="2.85"/><circle cx="340.5" cy="475.6" r="2.85"/><circle cx="367.2" cy="479.2" r="2.85"/><circle cx="399.5" cy="531.0" r="2.85"/><circle cx="318.7" cy="491.1" r="2.85"/><circle cx="318.7" cy="493.4" r="2.85"/><circle cx="328.0" cy="490.4" r="2.85"/><circle cx="342.4" cy="491.3" r="2.85"/><circle cx="318.7" cy="504.7" r="2.85"/><circle cx="324.5" cy="508.4" r="2.85"/><circle cx="331.9" cy="508.3" r="2.85"/><circle cx="351.9" cy="506.8" r="2.85"/><circle cx="357.9" cy="511.1" r="2.85"/><circle cx="362.6" cy="511.2" r="2.85"/><circle cx="363.6" cy="513.7" r="2.85"/><circle cx="349.7" cy="514.5" r="2.85"/><circle cx="319.4" cy="510.2" r="2.85"/><circle cx="323.7" cy="512.8" r="2.85"/><circle cx="328.4" cy="514.1" r="2.85"/><circle cx="334.8" cy="512.8" r="2.85"/><circle cx="339.1" cy="515.4" r="2.85"/><circle cx="342.5" cy="517.1" r="2.85"/><circle cx="322.0" cy="519.2" r="2.85"/><circle cx="333.1" cy="517.1" r="2.85"/><circle cx="345.9" cy="520.5" r="2.85"/><circle cx="349.7" cy="522.6" r="2.85"/><circle cx="317.7" cy="524.8" r="2.85"/><circle cx="317.7" cy="532.5" r="2.85"/><circle cx="324.5" cy="523.9" r="2.85"/><circle cx="329.7" cy="521.3" r="2.85"/><circle cx="335.6" cy="524.8" r="2.85"/><circle cx="324.5" cy="530.7" r="2.85"/><circle cx="333.1" cy="529.9" r="2.85"/><circle cx="336.5" cy="532.5" r="2.85"/><circle cx="325.4" cy="536.7" r="2.85"/><circle cx="332.2" cy="537.6" r="2.85"/><circle cx="340.8" cy="535.0" r="2.85"/><circle cx="322.0" cy="541.8" r="2.85"/><circle cx="344.2" cy="525.6" r="2.85"/><circle cx="347.6" cy="529.0" r="2.85"/><circle cx="348.5" cy="534.2" r="2.85"/><circle cx="352.7" cy="537.6" r="2.85"/><circle cx="357.0" cy="530.7" r="2.85"/><circle cx="358.7" cy="535.9" r="2.85"/><circle cx="360.4" cy="527.3" r="2.85"/><circle cx="320.0" cy="528.0" r="2.85"/><circle cx="328.0" cy="526.0" r="2.85"/><circle cx="321.0" cy="535.0" r="2.85"/><circle cx="330.0" cy="533.5" r="2.85"/><circle cx="338.0" cy="528.0" r="2.85"/><circle cx="327.0" cy="540.0" r="2.85"/><circle cx="318.0" cy="520.0" r="2.85"/><circle cx="341.0" cy="530.0" r="2.85"/><circle cx="350.7" cy="523.2" r="2.85"/><circle cx="362.3" cy="526.6" r="2.85"/><circle cx="356.8" cy="530.0" r="2.85"/><circle cx="352.7" cy="534.1" r="2.85"/><circle cx="358.9" cy="536.8" r="2.85"/><circle cx="363.6" cy="536.2" r="2.85"/><circle cx="368.4" cy="533.4" r="2.85"/><circle cx="352.7" cy="538.2" r="2.85"/><circle cx="371.8" cy="528.7" r="2.85"/><circle cx="375.2" cy="530.7" r="2.85"/><circle cx="375.9" cy="535.5" r="2.85"/><circle cx="380.7" cy="535.5" r="2.85"/><circle cx="386.2" cy="534.1" r="2.85"/><circle cx="382.7" cy="515.7" r="2.85"/><circle cx="382.7" cy="521.2" r="2.85"/><circle cx="397.7" cy="531.7" r="2.85"/><circle cx="405.9" cy="497.0" r="2.85"/><circle cx="408.0" cy="502.5" r="2.85"/><circle cx="404.6" cy="524.3" r="2.85"/><circle cx="410.7" cy="524.3" r="2.85"/><circle cx="417.5" cy="526.6" r="2.85"/><circle cx="463.1" cy="487.0" r="2.85"/><circle cx="502.4" cy="494.4" r="2.85"/><circle cx="463.8" cy="535.7" r="2.85"/><circle cx="483.9" cy="536.9" r="2.85"/><circle cx="320.0" cy="512.0" r="2.85"/><circle cx="324.0" cy="512.0" r="2.85"/><circle cx="328.0" cy="512.0" r="2.85"/><circle cx="332.0" cy="512.0" r="2.85"/><circle cx="322.0" cy="515.0" r="2.85"/><circle cx="326.0" cy="515.0" r="2.85"/><circle cx="330.0" cy="515.0" r="2.85"/><circle cx="334.0" cy="515.0" r="2.85"/><circle cx="338.0" cy="515.0" r="2.85"/><circle cx="322.0" cy="518.0" r="2.85"/><circle cx="330.0" cy="518.0" r="2.85"/><circle cx="334.0" cy="518.0" r="2.85"/><circle cx="338.0" cy="518.0" r="2.85"/><circle cx="342.0" cy="518.0" r="2.85"/><circle cx="322.0" cy="521.0" r="2.85"/><circle cx="326.0" cy="521.0" r="2.85"/><circle cx="330.0" cy="521.0" r="2.85"/><circle cx="334.0" cy="521.0" r="2.85"/><circle cx="338.0" cy="521.0" r="2.85"/><circle cx="342.0" cy="521.0" r="2.85"/><circle cx="346.0" cy="521.0" r="2.85"/><circle cx="318.0" cy="524.0" r="2.85"/><circle cx="322.0" cy="524.0" r="2.85"/><circle cx="326.0" cy="524.0" r="2.85"/><circle cx="334.0" cy="524.0" r="2.85"/><circle cx="338.0" cy="524.0" r="2.85"/><circle cx="346.0" cy="524.0" r="2.85"/><circle cx="318.0" cy="527.0" r="2.85"/><circle cx="322.0" cy="527.0" r="2.85"/><circle cx="330.0" cy="527.0" r="2.85"/><circle cx="334.0" cy="527.0" r="2.85"/><circle cx="338.0" cy="527.0" r="2.85"/><circle cx="346.0" cy="527.0" r="2.85"/><circle cx="350.0" cy="527.0" r="2.85"/><circle cx="318.0" cy="530.0" r="2.85"/><circle cx="322.0" cy="530.0" r="2.85"/><circle cx="332.0" cy="530.0" r="2.85"/><circle cx="336.0" cy="530.0" r="2.85"/><circle cx="340.0" cy="530.0" r="2.85"/><circle cx="348.0" cy="530.0" r="2.85"/><circle cx="352.0" cy="530.0" r="2.85"/><circle cx="360.0" cy="530.0" r="2.85"/><circle cx="318.0" cy="533.0" r="2.85"/><circle cx="322.0" cy="533.0" r="2.85"/><circle cx="334.0" cy="533.0" r="2.85"/><circle cx="338.0" cy="533.0" r="2.85"/><circle cx="342.0" cy="533.0" r="2.85"/><circle cx="350.0" cy="533.0" r="2.85"/><circle cx="354.0" cy="533.0" r="2.85"/><circle cx="358.0" cy="533.0" r="2.85"/><circle cx="320.0" cy="536.0" r="2.85"/><circle cx="324.0" cy="536.0" r="2.85"/><circle cx="328.0" cy="536.0" r="2.85"/><circle cx="332.0" cy="536.0" r="2.85"/><circle cx="350.0" cy="536.0" r="2.85"/><circle cx="358.0" cy="536.0" r="2.85"/><circle cx="322.0" cy="539.0" r="2.85"/><circle cx="326.0" cy="539.0" r="2.85"/></g>
</svg>
</body></html>
